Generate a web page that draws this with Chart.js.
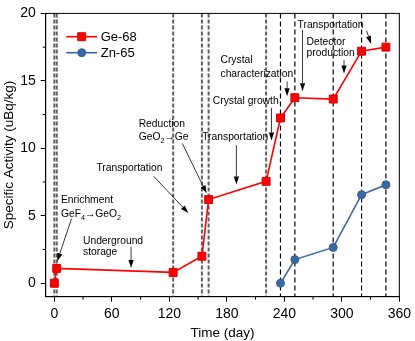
<!DOCTYPE html>
<html><head><meta charset="utf-8">
<script src="https://cdn.jsdelivr.net/npm/chart.js@4/dist/chart.umd.min.js"></script>
<style>html,body{margin:0;padding:0;background:#fff}</style>
</head><body>
<canvas id="c" width="415" height="341"></canvas>
<script>
// ---- data ----
const geDays   = [0, 2.5, 124, 154, 161, 221, 236, 251, 291, 320.6, 346];
const geValues = [0, 1.1, 0.8, 2.0, 6.2, 7.55, 12.25, 13.75, 13.65, 17.2, 17.5];
const znDays   = [236, 251, 291, 320.6, 346];
const znValues = [0, 1.75, 2.65, 6.56, 7.3];
const seriesNames = ['Ge-68', 'Zn-65'];
const stepDaysGray  = [0, 2.5, 124, 154, 161, 221];
const stepDaysBlack = [236, 251, 291, 320.6, 346];
const xTicks = [0, 60, 120, 180, 240, 300, 360];
const yTicks = [0, 5, 10, 15, 20];
const xMinor = [30, 90, 150, 210, 270, 330];
const yMinor = [2.5, 7.5, 12.5, 17.5];
const xTitle = 'Time (day)';
const yTitle = 'Specific Activity (uBq/kg)';
// annotation text lines: [text, day, value(baseline)]
const noteLines = [
  ['Enrichment', 6.9, 5.95], ['GeF_4→GeO_2', 6.9, 4.93],
  ['Underground', 29.9, 2.94], ['storage', 29.9, 2.12],
  ['Transportation', 43.9, 8.3],
  ['Reduction', 88, 11.58], ['GeO_2→Ge', 88, 10.6],
  ['Transportation', 154.3, 10.58],
  ['Crystal growth', 165.4, 13.3],
  ['Crystal', 173.4, 16.3], ['characterization', 173.4, 15.3],
  ['Transportation', 253.8, 18.9],
  ['Detector', 263.2, 17.66], ['production', 263.2, 16.81]
];
// arrows: [fromDay, fromVal, toDay, toVal]
const arrowList = [
  [17.9, 4.77, 3.0, 1.63],
  [80.1, 2.7, 80.1, 1.12],
  [103.6, 7.93, 139.9, 5.2],
  [133.6, 10.36, 158.9, 6.66],
  [190, 10.24, 190, 7.32],
  [226.6, 13.0, 226.6, 10.58],
  [242.9, 14.96, 242.9, 13.85],
  [259, 18.76, 259, 14.23],
  [325.8, 18.71, 330.6, 17.74],
  [302.3, 16.52, 302.3, 15.55]
];

const FONT = '"Liberation Sans", Arial, sans-serif';
Chart.defaults.font.family = FONT;
Chart.defaults.color = '#000';

function drawRich(ctx, str, x, y, size) {
  const parts = str.split(/_(\w)/);
  let cx = x;
  parts.forEach((p, i) => {
    if (!p) return;
    if (i % 2 === 1) {
      ctx.font = (size * 0.7) + 'px ' + FONT;
      ctx.fillText(p, cx, y + size * 0.3);
    } else {
      ctx.font = size + 'px ' + FONT;
      ctx.fillText(p, cx, y);
    }
    cx += ctx.measureText(p).width;
  });
}

const deco = {
  id: 'deco',
  beforeDatasetsDraw(chart) {
    const {ctx, chartArea: a, scales: {x}} = chart;
    ctx.save();
    ctx.lineWidth = 2; ctx.strokeStyle = '#606060'; ctx.setLineDash([4, 2]);
    stepDaysGray.forEach(d => {
      const px = x.getPixelForValue(d);
      ctx.beginPath(); ctx.moveTo(px, a.top); ctx.lineTo(px, a.bottom); ctx.stroke();
    });
    ctx.lineWidth = 1.2; ctx.strokeStyle = '#000'; ctx.setLineDash([5, 3]);
    stepDaysBlack.forEach(d => {
      const px = x.getPixelForValue(d);
      ctx.beginPath(); ctx.moveTo(px, a.top); ctx.lineTo(px, a.bottom); ctx.stroke();
    });
    ctx.restore();
  },
  afterDatasetsDraw(chart) {
    const {ctx, chartArea: a, scales: {x, y}} = chart;
    ctx.save();
    // frame
    ctx.strokeStyle = '#000'; ctx.lineWidth = 1;
    ctx.strokeRect(a.left, a.top, a.right - a.left, a.bottom - a.top);
    // minor ticks
    ctx.beginPath();
    xMinor.forEach(v => { const p = x.getPixelForValue(v); ctx.moveTo(p, a.bottom); ctx.lineTo(p, a.bottom + 3); });
    yMinor.forEach(v => { const p = y.getPixelForValue(v); ctx.moveTo(a.left - 3, p); ctx.lineTo(a.left, p); });
    ctx.stroke();
    // notes
    ctx.fillStyle = '#000'; ctx.textBaseline = 'alphabetic'; ctx.textAlign = 'left';
    noteLines.forEach(([t, d, v]) => drawRich(ctx, t, x.getPixelForValue(d), y.getPixelForValue(v), 10.3));
    // arrows
    arrowList.forEach(([d0, v0, d1, v1]) => {
      const x0 = x.getPixelForValue(d0), y0 = y.getPixelForValue(v0);
      const x1 = x.getPixelForValue(d1), y1 = y.getPixelForValue(v1);
      const ang = Math.atan2(y1 - y0, x1 - x0);
      const L = 8, W = 2.6;
      const bx = x1 - L * Math.cos(ang), by = y1 - L * Math.sin(ang);
      ctx.strokeStyle = '#222'; ctx.lineWidth = 0.9;
      ctx.beginPath(); ctx.moveTo(x0, y0); ctx.lineTo(bx, by); ctx.stroke();
      ctx.fillStyle = '#000';
      ctx.beginPath();
      ctx.moveTo(x1, y1);
      ctx.lineTo(bx + W * Math.sin(ang), by - W * Math.cos(ang));
      ctx.lineTo(bx - W * Math.sin(ang), by + W * Math.cos(ang));
      ctx.closePath(); ctx.fill();
    });
    // legend
    chart.data.datasets.forEach((ds, i) => {
      const ly = a.top + 23.3 + i * 16;
      const lx0 = a.left + 20.5, lx1 = a.left + 51.5;
      ctx.strokeStyle = ds.borderColor; ctx.lineWidth = ds.borderWidth;
      ctx.beginPath(); ctx.moveTo(lx0, ly); ctx.lineTo(lx1, ly); ctx.stroke();
      ctx.fillStyle = ds.pointBackgroundColor; ctx.strokeStyle = ds.pointBorderColor; ctx.lineWidth = 1;
      ctx.beginPath();
      if (ds.pointStyle === 'rect') {
        const s = ds.pointRadius * Math.SQRT1_2;
        ctx.rect((lx0 + lx1) / 2 - s, ly - s, 2 * s, 2 * s);
      } else {
        ctx.arc((lx0 + lx1) / 2, ly, ds.pointRadius, 0, Math.PI * 2);
      }
      ctx.fill(); ctx.stroke();
      ctx.fillStyle = '#000'; ctx.font = '13px ' + FONT; ctx.textBaseline = 'middle';
      ctx.fillText(ds.label, lx1 + 3.5, ly + 0.5);
    });
    ctx.restore();
  }
};

new Chart(document.getElementById('c'), {
  type: 'line',
  data: {
    datasets: [
      {
        label: seriesNames[0],
        data: geDays.map((d, i) => ({x: d, y: geValues[i]})),
        borderColor: '#ff0000', borderWidth: 1.6,
        pointStyle: 'rect', pointRadius: 5.6,
        pointBackgroundColor: '#ff0000', pointBorderColor: '#d80000', pointBorderWidth: 1,
        tension: 0, fill: false
      },
      {
        label: seriesNames[1],
        data: znDays.map((d, i) => ({x: d, y: znValues[i]})),
        borderColor: '#3b68a3', borderWidth: 1.6,
        pointStyle: 'circle', pointRadius: 4,
        pointBackgroundColor: '#3b68a3', pointBorderColor: '#34609a', pointBorderWidth: 1,
        tension: 0, fill: false
      }
    ]
  },
  options: {
    responsive: false, animation: false, devicePixelRatio: 1,
    layout: {padding: {top: 9, right: 13.3, left: 0, bottom: 0}},
    plugins: {legend: {display: false}, tooltip: {enabled: false}},
    scales: {
      x: {
        type: 'linear', min: -9, max: 360,
        afterBuildTicks: s => { s.ticks = xTicks.map(v => ({value: v})); },
        afterFit: s => { s.height = 44.3; },
        grid: {drawOnChartArea: false, tickLength: 5, color: '#000'},
        border: {color: '#000', width: 1},
        ticks: {font: {size: 14}, padding: 4, maxRotation: 0, autoSkip: false},
        title: {display: true, text: xTitle, font: {size: 13.5}, padding: {top: 0, bottom: 0}}
      },
      y: {
        type: 'linear', min: -1, max: 20,
        afterBuildTicks: s => { s.ticks = yTicks.map(v => ({value: v})); },
        afterFit: s => { s.width = 45.7; },
        grid: {drawOnChartArea: false, tickLength: 5, color: '#000'},
        border: {color: '#000', width: 1},
        ticks: {font: {size: 14}, padding: 5},
        title: {display: true, text: yTitle, font: {size: 13.5}, padding: {top: 1.5, bottom: 0}}
      }
    }
  },
  plugins: [deco]
});
</script>
</body></html>
